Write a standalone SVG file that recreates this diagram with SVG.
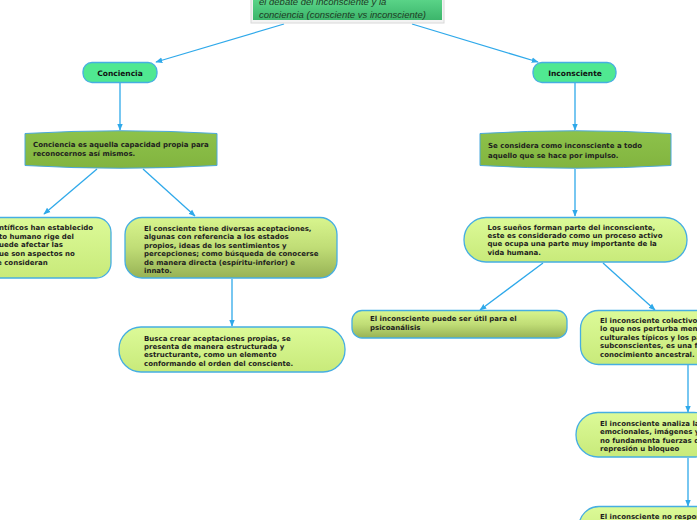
<svg xmlns="http://www.w3.org/2000/svg" width="697" height="520" viewBox="0 0 697 520">
<defs>
<linearGradient id="gTop" x1="0" y1="0" x2="0" y2="1"><stop offset="0" stop-color="#5fd98d"/><stop offset="1" stop-color="#3cb56b"/></linearGradient>
<linearGradient id="gLight" x1="0" y1="0" x2="0" y2="1"><stop offset="0" stop-color="#dcfa98"/><stop offset="1" stop-color="#c8ea7a"/></linearGradient>
<linearGradient id="gMix" x1="0" y1="0" x2="0" y2="1"><stop offset="0" stop-color="#d8f58e"/><stop offset="0.5" stop-color="#c0dd76"/><stop offset="1" stop-color="#97b255"/></linearGradient>
<linearGradient id="gOlive" x1="0" y1="0" x2="0" y2="1"><stop offset="0" stop-color="#8dc24b"/><stop offset="1" stop-color="#82b43f"/></linearGradient>
<marker id="arr" viewBox="0 0 10 10" refX="9" refY="5" markerWidth="7" markerHeight="7" orient="auto" markerUnits="userSpaceOnUse"><path d="M0,1 L10,5 L0,9 Z" fill="#2fa9ea"/></marker>
</defs>
<style>
.t{font-family:"DejaVu Sans",Verdana,sans-serif;font-weight:bold;font-size:7px;fill:#1e1e1e}
.tc{font-family:"DejaVu Sans",Verdana,sans-serif;font-weight:bold;font-size:7.5px;fill:#111;text-anchor:middle}
.ti{font-family:"Liberation Sans",Arial,sans-serif;font-style:italic;font-size:9.5px;fill:#1d3a24}
.e{stroke:#2fa9ea;stroke-width:1.3;fill:none;marker-end:url(#arr)}
.pill{stroke:#46aee2;stroke-width:1.3}
.ol{stroke:#4aa8dc;stroke-width:1}
</style>
<rect width="697" height="520" fill="#ffffff"/>
<g id="connectors">
<line class="e" x1="284" y1="24" x2="156" y2="62"/>
<line class="e" x1="412" y1="24" x2="538" y2="62"/>
<line class="e" x1="120" y1="83" x2="120" y2="130"/>
<line class="e" x1="575" y1="83" x2="575" y2="130"/>
<line class="e" x1="97" y1="169" x2="44" y2="214"/>
<line class="e" x1="143" y1="169" x2="195" y2="216"/>
<line class="e" x1="575" y1="169" x2="575" y2="216"/>
<line class="e" x1="232" y1="279" x2="232" y2="326"/>
<line class="e" x1="543" y1="263" x2="480" y2="310"/>
<line class="e" x1="603" y1="263" x2="655" y2="310"/>
<line class="e" x1="688" y1="365" x2="688" y2="412"/>
<line class="e" x1="688" y1="458" x2="688" y2="506"/>
</g>
<g id="n-top">
<rect x="251" y="-4" width="193" height="27" fill="#f3f3f3" stroke="#d8d8d8" stroke-width="1"/>
<rect x="253" y="-4" width="189" height="24" fill="url(#gTop)"/>
<text class="ti" x="259" y="5">el debate del inconsciente y la</text>
<text class="ti" x="259" y="18">conciencia (consciente vs inconsciente)</text>
</g>
<g id="n-conciencia">
<rect class="pill" x="83" y="62.5" width="74" height="20" rx="9" fill="#50e891"/>
<text class="tc" x="120" y="75.5">Conciencia</text>
</g>
<g id="n-inconsciente">
<rect class="pill" x="533" y="62.5" width="83" height="20" rx="9" fill="#50e891"/>
<text class="tc" x="575" y="75.5">Inconsciente</text>
</g>
<g id="n-def-conciencia">
<path class="ol" d="M25,133.5 Q121,128 217,133.5 L217,165.5 Q121,171 25,165.5 Z" fill="url(#gOlive)"/>
<text class="t" x="33" y="147">Conciencia es aquella capacidad propia para</text>
<text class="t" x="33" y="156">reconocernos así mismos.</text>
</g>
<g id="n-def-inconsciente">
<path class="ol" d="M480,133.5 Q575.5,128 671,133.5 L671,165.5 Q575.5,171 480,165.5 Z" fill="url(#gOlive)"/>
<text class="t" x="488" y="148">Se considera como inconsciente a todo</text>
<text class="t" x="488" y="157.5">aquello que se hace por impulso.</text>
</g>
<g id="n-cientificos">
<rect class="pill" x="-30" y="217.5" width="141" height="60.5" rx="15" fill="url(#gLight)"/>
<text class="t" x="-1" y="230">ntíficos han establecido</text>
<text class="t" x="-1" y="238.5">to humano rige del</text>
<text class="t" x="-1" y="247">uede afectar las</text>
<text class="t" x="-1" y="255.5">ue son aspectos no</text>
<text class="t" x="-3" y="264.5">e consideran</text>
</g>
<g id="n-consciente">
<rect class="pill" x="125" y="217.5" width="212" height="60.5" rx="17" fill="url(#gMix)"/>
<text class="t" x="144" y="231">El consciente tiene diversas aceptaciones,</text>
<text class="t" x="144" y="239.2">algunas con referencia a los estados</text>
<text class="t" x="144" y="247.5">propios, ideas de los sentimientos y</text>
<text class="t" x="144" y="255.8">percepciones; como búsqueda de conocerse</text>
<text class="t" x="144" y="264.5">de manera directa (espíritu-inferior) e</text>
<text class="t" x="144" y="272.8">innato.</text>
</g>
<g id="n-busca">
<rect class="pill" x="119" y="327" width="226" height="45" rx="22" fill="url(#gLight)"/>
<text class="t" x="144" y="341">Busca crear aceptaciones propias, se</text>
<text class="t" x="144" y="349">presenta de manera estructurada y</text>
<text class="t" x="144" y="357.3">estructurante, como un elemento</text>
<text class="t" x="144" y="365.5">conformando el orden del consciente.</text>
</g>
<g id="n-suenos">
<rect class="pill" x="464" y="217.5" width="223" height="44.5" rx="22" fill="url(#gLight)"/>
<text class="t" x="487.5" y="229.5">Los sueños forman parte del inconsciente,</text>
<text class="t" x="487.5" y="237.8">este es considerado como un proceso activo</text>
<text class="t" x="487.5" y="246.2">que ocupa una parte muy importante de la</text>
<text class="t" x="487.5" y="254.5">vida humana.</text>
</g>
<g id="n-util">
<rect class="pill" x="352" y="310.5" width="215" height="27.5" rx="10" fill="url(#gMix)"/>
<text class="t" x="370" y="321">El inconsciente puede ser útil para el</text>
<text class="t" x="370" y="329.5">psicoanálisis</text>
</g>
<g id="n-colectivo">
<rect class="pill" x="580.5" y="310.5" width="140" height="54" rx="18" fill="url(#gLight)"/>
<text class="t" x="600" y="322.5">El inconsciente colectivo es</text>
<text class="t" x="600" y="331">lo que nos perturba mentalmente</text>
<text class="t" x="600" y="339.5">culturales típicos y los patrones</text>
<text class="t" x="600" y="348">subconscientes, es una forma de</text>
<text class="t" x="600" y="356.5">conocimiento ancestral.</text>
</g>
<g id="n-analiza">
<rect class="pill" x="576" y="412.5" width="140" height="44.5" rx="22" fill="url(#gLight)"/>
<text class="t" x="600" y="426">El inconsciente analiza las</text>
<text class="t" x="600" y="434.3">emocionales, imágenes y</text>
<text class="t" x="600" y="442.6">no fundamenta fuerzas de</text>
<text class="t" x="600" y="451">represión u bloqueo</text>
</g>
<g id="n-norespo">
<rect class="pill" x="579" y="506.5" width="140" height="40" rx="20" fill="url(#gLight)"/>
<text class="t" x="600" y="518.5">El inconsciente no responde</text>
</g>
</svg>
